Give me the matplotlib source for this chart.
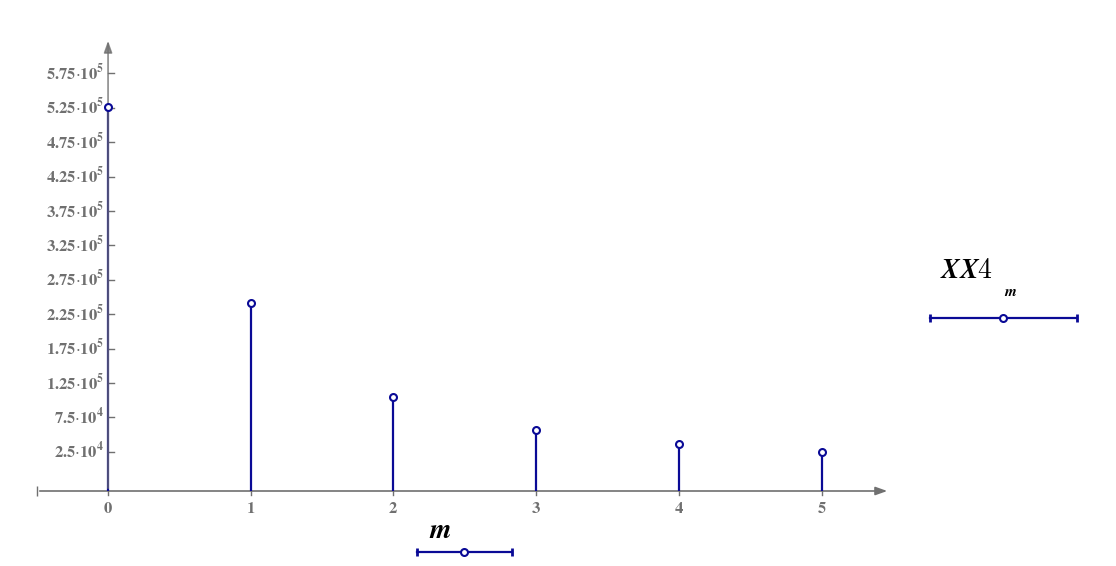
import matplotlib
matplotlib.use("Agg")
import matplotlib.pyplot as plt
from matplotlib.lines import Line2D

plt.rcParams['mathtext.fontset'] = 'stix'

# Data
m_values = [0, 1, 2, 3, 4, 5]
xx4_values = [526000, 241300, 104700, 56700, 36300, 24700]
y_ticks = [2.5e4, 7.5e4, 1.25e5, 1.75e5, 2.25e5, 2.75e5, 3.25e5, 3.75e5,
           4.25e5, 4.75e5, 5.25e5, 5.75e5]
y_tick_labels = ["2.5·10^4", "7.5·10^4", "1.25·10^5", "1.75·10^5", "2.25·10^5",
                 "2.75·10^5", "3.25·10^5", "3.75·10^5", "4.25·10^5", "4.75·10^5",
                 "5.25·10^5", "5.75·10^5"]
x_ticks = [0, 1, 2, 3, 4, 5]

BLUE = '#0a0a96'
GRAY = '#707070'

W, H = 1116, 566
fig = plt.figure(figsize=(W / 100, H / 100), dpi=100)
left, right, bottom, top = 37, 890, 491, 38
ax = fig.add_axes([left / W, (H - bottom) / H, (right - left) / W, (bottom - top) / H])
xmin, xmax = -0.498, 5.48
ymin, ymax = -32000, 626500
ax.set_xlim(xmin, xmax)
ax.set_ylim(ymin, ymax)
for s in ax.spines.values():
    s.set_visible(False)

# stems
ax.vlines(m_values, ymin, xx4_values, color=BLUE, lw=1.6, zorder=3)
ax.plot(m_values, xx4_values, 'o', ms=5, mfc='white', mec=BLUE, mew=1.5, zorder=5, clip_on=False)

# axes with arrows
ax.annotate('', xy=(xmax, ymin), xytext=(xmin, ymin),
            arrowprops=dict(arrowstyle='-|>,head_length=0.7,head_width=0.25', color=GRAY, lw=1.2),
            annotation_clip=False, zorder=2)
ax.annotate('', xy=(0, ymax), xytext=(0, ymin),
            arrowprops=dict(arrowstyle='-|>,head_length=0.7,head_width=0.25', color=GRAY, lw=1.2, alpha=0.8),
            annotation_clip=False, zorder=4)
ax.plot([xmin], [ymin], marker='|', ms=7, color=GRAY, mew=1.0, clip_on=False)

# ticks
ax.set_xticks([])
ax.set_yticks([])
for yt, lab in zip(y_ticks, y_tick_labels):
    base, exp = lab.split('^')
    mant, ten = base.split('·')
    ax.plot([0.0, 0.045], [yt, yt], color=GRAY, lw=1.0, clip_on=False)
    ax.text(-0.03, yt, r'$\mathbf{%s}{\cdot}\mathbf{%s^{%s}}$' % (mant, ten, exp),
            ha='right', va='center', fontsize=12, color=GRAY)
for xt in x_ticks:
    ax.plot([xt, xt], [ymin, ymin - 6000], color=GRAY, lw=1.0, clip_on=False)
    ax.text(xt, ymin - 12000, r'$\mathbf{%d}$' % xt, ha='center', va='top',
            fontsize=12, color=GRAY)

# legend-like labels
fig.text(440 / W, 1 - 530 / H, r'$\boldsymbol{m}$', fontsize=20, ha='center', va='center',
         math_fontfamily='cm')
fig.add_artist(Line2D([417 / W, 512 / W], [1 - 552 / H] * 2, color=BLUE, lw=1.6))
fig.add_artist(Line2D([417 / W, 512 / W], [1 - 552 / H] * 2, ls='none', marker='|', ms=6, color=BLUE, mew=2))
fig.add_artist(Line2D([464 / W], [1 - 552 / H], ls='none', marker='o', ms=5, mfc='white', mec=BLUE, mew=1.5))

fig.text(966 / W, 1 - 270 / H, r'$\boldsymbol{XX}\mathbf{4}$', fontsize=20, ha='center', va='center',
         math_fontfamily='cm')
fig.text(1011 / W, 1 - 291 / H, r'$\boldsymbol{m}$', fontsize=11, ha='center', va='center',
         math_fontfamily='cm')
fig.add_artist(Line2D([930 / W, 1077 / W], [1 - 318 / H] * 2, color=BLUE, lw=1.6))
fig.add_artist(Line2D([930 / W, 1077 / W], [1 - 318 / H] * 2, ls='none', marker='|', ms=6, color=BLUE, mew=2))
fig.add_artist(Line2D([1003 / W], [1 - 318 / H], ls='none', marker='o', ms=5, mfc='white', mec=BLUE, mew=1.5))

fig.savefig('out.png', dpi=100)
